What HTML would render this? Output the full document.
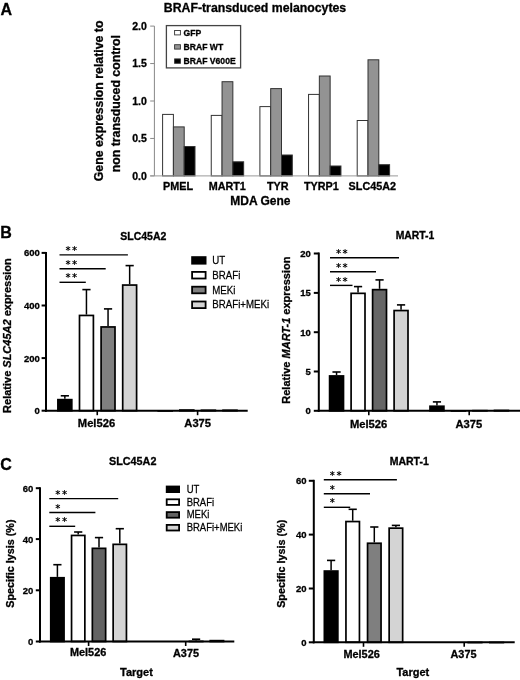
<!DOCTYPE html>
<html><head><meta charset="utf-8"><title>Figure</title>
<style>
html,body{margin:0;padding:0;background:#fff;}
body{width:520px;height:680px;overflow:hidden;}
svg{display:block;font-family:"Liberation Sans", Arial, Helvetica, sans-serif;}
</style></head><body>
<svg width="520" height="680" viewBox="0 0 520 680">
<rect width="520" height="680" fill="#fff"/>
<text x="0.40" y="15.40" font-size="16" font-weight="bold" stroke="#000" stroke-width="0.3" text-anchor="start" fill="#000">A</text>
<text x="255.00" y="12.20" font-size="12.3" font-weight="bold" stroke="#000" stroke-width="0.3" text-anchor="middle" fill="#000">BRAF-transduced melanocytes</text>
<text x="102.90" y="100.90" font-size="12.3" font-weight="bold" stroke="#000" stroke-width="0.3" text-anchor="middle" fill="#000" transform="rotate(-90 102.9 100.9)">Gene expression relative to</text>
<text x="120.10" y="103.60" font-size="12.3" font-weight="bold" stroke="#000" stroke-width="0.3" text-anchor="middle" fill="#000" transform="rotate(-90 120.1 103.6)">non transduced control</text>
<line x1="154.40" y1="26.10" x2="154.40" y2="175.90" stroke="#888" stroke-width="1" stroke-linecap="butt"/>
<line x1="150.20" y1="175.90" x2="154.40" y2="175.90" stroke="#888" stroke-width="1" stroke-linecap="butt"/>
<text x="146.80" y="179.60" font-size="10.5" font-weight="bold" stroke="#000" stroke-width="0.3" text-anchor="end" fill="#000">0.0</text>
<line x1="150.20" y1="138.45" x2="154.40" y2="138.45" stroke="#888" stroke-width="1" stroke-linecap="butt"/>
<text x="146.80" y="142.15" font-size="10.5" font-weight="bold" stroke="#000" stroke-width="0.3" text-anchor="end" fill="#000">0.5</text>
<line x1="150.20" y1="101.00" x2="154.40" y2="101.00" stroke="#888" stroke-width="1" stroke-linecap="butt"/>
<text x="146.80" y="104.70" font-size="10.5" font-weight="bold" stroke="#000" stroke-width="0.3" text-anchor="end" fill="#000">1.0</text>
<line x1="150.20" y1="63.55" x2="154.40" y2="63.55" stroke="#888" stroke-width="1" stroke-linecap="butt"/>
<text x="146.80" y="67.25" font-size="10.5" font-weight="bold" stroke="#000" stroke-width="0.3" text-anchor="end" fill="#000">1.5</text>
<line x1="150.20" y1="26.10" x2="154.40" y2="26.10" stroke="#888" stroke-width="1" stroke-linecap="butt"/>
<text x="146.80" y="29.80" font-size="10.5" font-weight="bold" stroke="#000" stroke-width="0.3" text-anchor="end" fill="#000">2.0</text>
<rect x="162.60" y="114.40" width="10.80" height="61.50" fill="#fff" stroke="#333" stroke-width="1"/>
<rect x="173.40" y="126.90" width="10.80" height="49.00" fill="#939393" stroke="#333" stroke-width="1"/>
<rect x="184.20" y="146.50" width="10.80" height="29.40" fill="#000" stroke="#333" stroke-width="1"/>
<text x="178.00" y="189.80" font-size="10.8" font-weight="bold" stroke="#000" stroke-width="0.3" text-anchor="middle" fill="#000">PMEL</text>
<rect x="211.25" y="115.40" width="10.80" height="60.50" fill="#fff" stroke="#333" stroke-width="1"/>
<rect x="222.05" y="81.70" width="10.80" height="94.20" fill="#939393" stroke="#333" stroke-width="1"/>
<rect x="232.85" y="161.80" width="10.80" height="14.10" fill="#000" stroke="#333" stroke-width="1"/>
<text x="227.25" y="189.80" font-size="10.8" font-weight="bold" stroke="#000" stroke-width="0.3" text-anchor="middle" fill="#000">MART1</text>
<rect x="259.90" y="106.60" width="10.80" height="69.30" fill="#fff" stroke="#333" stroke-width="1"/>
<rect x="270.70" y="88.60" width="10.80" height="87.30" fill="#939393" stroke="#333" stroke-width="1"/>
<rect x="281.50" y="155.00" width="10.80" height="20.90" fill="#000" stroke="#333" stroke-width="1"/>
<text x="277.70" y="189.80" font-size="10.8" font-weight="bold" stroke="#000" stroke-width="0.3" text-anchor="middle" fill="#000">TYR</text>
<rect x="308.55" y="94.40" width="10.80" height="81.50" fill="#fff" stroke="#333" stroke-width="1"/>
<rect x="319.35" y="76.00" width="10.80" height="99.90" fill="#939393" stroke="#333" stroke-width="1"/>
<rect x="330.15" y="166.00" width="10.80" height="9.90" fill="#000" stroke="#333" stroke-width="1"/>
<text x="321.40" y="189.80" font-size="10.8" font-weight="bold" stroke="#000" stroke-width="0.3" text-anchor="middle" fill="#000">TYRP1</text>
<rect x="357.20" y="120.50" width="10.80" height="55.40" fill="#fff" stroke="#333" stroke-width="1"/>
<rect x="368.00" y="59.80" width="10.80" height="116.10" fill="#939393" stroke="#333" stroke-width="1"/>
<rect x="378.80" y="164.70" width="10.80" height="11.20" fill="#000" stroke="#333" stroke-width="1"/>
<text x="372.30" y="189.80" font-size="10.8" font-weight="bold" stroke="#000" stroke-width="0.3" text-anchor="middle" fill="#000">SLC45A2</text>
<line x1="150.20" y1="175.90" x2="398.00" y2="175.90" stroke="#999" stroke-width="1" stroke-linecap="butt"/>
<text x="260.40" y="205.40" font-size="12" font-weight="bold" stroke="#000" stroke-width="0.3" text-anchor="middle" fill="#000">MDA Gene</text>
<rect x="166.40" y="25.60" width="74.20" height="42.30" fill="none" stroke="#444" stroke-width="1.3"/>
<rect x="174.60" y="30.50" width="5.80" height="4.40" fill="#fff" stroke="#333" stroke-width="0.9"/>
<text x="183.60" y="35.70" font-size="8.6" font-weight="bold" stroke="#000" stroke-width="0.3" text-anchor="start" fill="#000">GFP</text>
<rect x="174.60" y="44.70" width="5.80" height="4.40" fill="#939393" stroke="#333" stroke-width="0.9"/>
<text x="183.60" y="49.90" font-size="8.6" font-weight="bold" stroke="#000" stroke-width="0.3" text-anchor="start" fill="#000">BRAF WT</text>
<rect x="174.60" y="58.90" width="5.80" height="4.40" fill="#000" stroke="#333" stroke-width="0.9"/>
<text x="183.60" y="64.10" font-size="8.6" font-weight="bold" stroke="#000" stroke-width="0.3" text-anchor="start" fill="#000">BRAF V600E</text>
<text x="0.30" y="238.00" font-size="16" font-weight="bold" stroke="#000" stroke-width="0.3" text-anchor="start" fill="#000">B</text>
<line x1="64.85" y1="398.80" x2="64.85" y2="395.80" stroke="#000" stroke-width="1.5" stroke-linecap="butt"/>
<line x1="60.75" y1="395.80" x2="68.95" y2="395.80" stroke="#000" stroke-width="1.6" stroke-linecap="butt"/>
<rect x="57.90" y="399.65" width="13.90" height="11.05" fill="#000" stroke="#000" stroke-width="1.7"/>
<line x1="86.45" y1="314.60" x2="86.45" y2="289.60" stroke="#000" stroke-width="1.5" stroke-linecap="butt"/>
<line x1="82.35" y1="289.60" x2="90.55" y2="289.60" stroke="#000" stroke-width="1.6" stroke-linecap="butt"/>
<rect x="79.50" y="315.45" width="13.90" height="95.25" fill="#fff" stroke="#000" stroke-width="1.7"/>
<line x1="108.05" y1="326.10" x2="108.05" y2="308.90" stroke="#000" stroke-width="1.5" stroke-linecap="butt"/>
<line x1="103.95" y1="308.90" x2="112.15" y2="308.90" stroke="#000" stroke-width="1.6" stroke-linecap="butt"/>
<rect x="101.10" y="326.95" width="13.90" height="83.75" fill="#808080" stroke="#000" stroke-width="1.7"/>
<line x1="129.65" y1="284.20" x2="129.65" y2="265.60" stroke="#000" stroke-width="1.5" stroke-linecap="butt"/>
<line x1="125.55" y1="265.60" x2="133.75" y2="265.60" stroke="#000" stroke-width="1.6" stroke-linecap="butt"/>
<rect x="122.70" y="285.05" width="13.90" height="125.65" fill="#d4d4d4" stroke="#000" stroke-width="1.7"/>
<rect x="158.25" y="410.85" width="13.90" height="0.10" fill="#000" stroke="#000" stroke-width="1.7"/>
<rect x="179.85" y="410.05" width="13.90" height="0.65" fill="#fff" stroke="#000" stroke-width="1.7"/>
<rect x="201.45" y="410.25" width="13.90" height="0.45" fill="#808080" stroke="#000" stroke-width="1.7"/>
<rect x="223.05" y="410.25" width="13.90" height="0.45" fill="#d4d4d4" stroke="#000" stroke-width="1.7"/>
<line x1="46.00" y1="251.90" x2="46.00" y2="411.70" stroke="#000" stroke-width="2" stroke-linecap="butt"/>
<line x1="45.00" y1="410.70" x2="247.70" y2="410.70" stroke="#000" stroke-width="2" stroke-linecap="butt"/>
<line x1="41.60" y1="410.70" x2="46.00" y2="410.70" stroke="#000" stroke-width="2" stroke-linecap="butt"/>
<text x="39.80" y="414.10" font-size="9.5" font-weight="bold" stroke="#000" stroke-width="0.3" text-anchor="end" fill="#000">0</text>
<line x1="41.60" y1="358.10" x2="46.00" y2="358.10" stroke="#000" stroke-width="2" stroke-linecap="butt"/>
<text x="39.80" y="361.50" font-size="9.5" font-weight="bold" stroke="#000" stroke-width="0.3" text-anchor="end" fill="#000">200</text>
<line x1="41.60" y1="305.50" x2="46.00" y2="305.50" stroke="#000" stroke-width="2" stroke-linecap="butt"/>
<text x="39.80" y="308.90" font-size="9.5" font-weight="bold" stroke="#000" stroke-width="0.3" text-anchor="end" fill="#000">400</text>
<line x1="41.60" y1="252.90" x2="46.00" y2="252.90" stroke="#000" stroke-width="2" stroke-linecap="butt"/>
<text x="39.80" y="256.30" font-size="9.5" font-weight="bold" stroke="#000" stroke-width="0.3" text-anchor="end" fill="#000">600</text>
<line x1="97.25" y1="410.70" x2="97.25" y2="415.20" stroke="#000" stroke-width="1.6" stroke-linecap="butt"/>
<line x1="197.60" y1="410.70" x2="197.60" y2="415.20" stroke="#000" stroke-width="1.6" stroke-linecap="butt"/>
<line x1="59.50" y1="254.90" x2="127.90" y2="254.90" stroke="#000" stroke-width="1.4" stroke-linecap="butt"/>
<text x="65.40" y="254.05" font-size="9.8" font-weight="bold" font-family="DejaVu Sans, sans-serif" letter-spacing="1.6">**</text>
<line x1="59.50" y1="268.70" x2="105.70" y2="268.70" stroke="#000" stroke-width="1.4" stroke-linecap="butt"/>
<text x="65.40" y="267.85" font-size="9.8" font-weight="bold" font-family="DejaVu Sans, sans-serif" letter-spacing="1.6">**</text>
<line x1="59.50" y1="282.30" x2="85.80" y2="282.30" stroke="#000" stroke-width="1.4" stroke-linecap="butt"/>
<text x="65.40" y="281.45" font-size="9.8" font-weight="bold" font-family="DejaVu Sans, sans-serif" letter-spacing="1.6">**</text>
<rect x="192.10" y="257.10" width="13.50" height="6.60" fill="#000" stroke="#000" stroke-width="1.8"/>
<text x="0.00" y="0.00" font-size="9.7" stroke="#000" stroke-width="0.22" text-anchor="start" fill="#000" transform="translate(212.30 264.00) scale(1 1.15)">UT</text>
<rect x="192.10" y="271.90" width="13.50" height="6.60" fill="#fff" stroke="#000" stroke-width="1.8"/>
<text x="0.00" y="0.00" font-size="9.7" stroke="#000" stroke-width="0.22" text-anchor="start" fill="#000" transform="translate(212.30 278.80) scale(1 1.15)">BRAFi</text>
<rect x="192.10" y="286.70" width="13.50" height="6.60" fill="#808080" stroke="#000" stroke-width="1.8"/>
<text x="0.00" y="0.00" font-size="9.7" stroke="#000" stroke-width="0.22" text-anchor="start" fill="#000" transform="translate(212.30 293.60) scale(1 1.15)">MEKi</text>
<rect x="192.10" y="301.50" width="13.50" height="6.60" fill="#d4d4d4" stroke="#000" stroke-width="1.8"/>
<text x="0.00" y="0.00" font-size="9.7" stroke="#000" stroke-width="0.22" text-anchor="start" fill="#000" transform="translate(212.30 308.40) scale(1 1.15)">BRAFi+MEKi</text>
<text x="143.35" y="239.80" font-size="10.5" font-weight="bold" stroke="#000" stroke-width="0.3" text-anchor="middle" fill="#000">SLC45A2</text>
<text x="10.80" y="335.60" font-size="11" font-weight="bold" stroke="#000" stroke-width="0.3" text-anchor="middle" fill="#000" transform="rotate(-90 10.8 335.6)">Relative <tspan font-style="italic">SLC45A2</tspan> expression</text>
<text x="96.50" y="427.30" font-size="11.2" font-weight="bold" stroke="#000" stroke-width="0.3" text-anchor="middle" fill="#000">Mel526</text>
<text x="197.70" y="427.30" font-size="11.2" font-weight="bold" stroke="#000" stroke-width="0.3" text-anchor="middle" fill="#000">A375</text>
<line x1="336.55" y1="375.10" x2="336.55" y2="372.00" stroke="#000" stroke-width="1.5" stroke-linecap="butt"/>
<line x1="332.45" y1="372.00" x2="340.65" y2="372.00" stroke="#000" stroke-width="1.6" stroke-linecap="butt"/>
<rect x="329.60" y="375.95" width="13.90" height="34.85" fill="#000" stroke="#000" stroke-width="1.7"/>
<line x1="358.05" y1="292.50" x2="358.05" y2="286.60" stroke="#000" stroke-width="1.5" stroke-linecap="butt"/>
<line x1="353.95" y1="286.60" x2="362.15" y2="286.60" stroke="#000" stroke-width="1.6" stroke-linecap="butt"/>
<rect x="351.10" y="293.35" width="13.90" height="117.45" fill="#fff" stroke="#000" stroke-width="1.7"/>
<line x1="379.55" y1="288.80" x2="379.55" y2="279.90" stroke="#000" stroke-width="1.5" stroke-linecap="butt"/>
<line x1="375.45" y1="279.90" x2="383.65" y2="279.90" stroke="#000" stroke-width="1.6" stroke-linecap="butt"/>
<rect x="372.60" y="289.65" width="13.90" height="121.15" fill="#666666" stroke="#000" stroke-width="1.7"/>
<line x1="401.05" y1="309.70" x2="401.05" y2="304.90" stroke="#000" stroke-width="1.5" stroke-linecap="butt"/>
<line x1="396.95" y1="304.90" x2="405.15" y2="304.90" stroke="#000" stroke-width="1.6" stroke-linecap="butt"/>
<rect x="394.10" y="310.55" width="13.90" height="100.25" fill="#d4d4d4" stroke="#000" stroke-width="1.7"/>
<line x1="436.95" y1="405.40" x2="436.95" y2="401.90" stroke="#000" stroke-width="1.5" stroke-linecap="butt"/>
<line x1="432.85" y1="401.90" x2="441.05" y2="401.90" stroke="#000" stroke-width="1.6" stroke-linecap="butt"/>
<rect x="430.00" y="406.25" width="13.90" height="4.55" fill="#000" stroke="#000" stroke-width="1.7"/>
<rect x="451.50" y="410.85" width="13.90" height="0.10" fill="#fff" stroke="#000" stroke-width="1.7"/>
<rect x="473.00" y="410.65" width="13.90" height="0.15" fill="#666666" stroke="#000" stroke-width="1.7"/>
<rect x="494.50" y="410.45" width="13.90" height="0.35" fill="#d4d4d4" stroke="#000" stroke-width="1.7"/>
<line x1="318.80" y1="252.50" x2="318.80" y2="411.80" stroke="#000" stroke-width="2" stroke-linecap="butt"/>
<line x1="317.80" y1="410.80" x2="520.00" y2="410.80" stroke="#000" stroke-width="2" stroke-linecap="butt"/>
<line x1="313.80" y1="410.80" x2="318.80" y2="410.80" stroke="#000" stroke-width="2" stroke-linecap="butt"/>
<text x="310.90" y="414.20" font-size="9.5" font-weight="bold" stroke="#000" stroke-width="0.3" text-anchor="end" fill="#000">0</text>
<line x1="313.80" y1="371.50" x2="318.80" y2="371.50" stroke="#000" stroke-width="2" stroke-linecap="butt"/>
<text x="310.90" y="374.90" font-size="9.5" font-weight="bold" stroke="#000" stroke-width="0.3" text-anchor="end" fill="#000">5</text>
<line x1="313.80" y1="332.20" x2="318.80" y2="332.20" stroke="#000" stroke-width="2" stroke-linecap="butt"/>
<text x="310.90" y="335.60" font-size="9.5" font-weight="bold" stroke="#000" stroke-width="0.3" text-anchor="end" fill="#000">10</text>
<line x1="313.80" y1="292.90" x2="318.80" y2="292.90" stroke="#000" stroke-width="2" stroke-linecap="butt"/>
<text x="310.90" y="296.30" font-size="9.5" font-weight="bold" stroke="#000" stroke-width="0.3" text-anchor="end" fill="#000">15</text>
<line x1="313.80" y1="253.50" x2="318.80" y2="253.50" stroke="#000" stroke-width="2" stroke-linecap="butt"/>
<text x="310.90" y="256.90" font-size="9.5" font-weight="bold" stroke="#000" stroke-width="0.3" text-anchor="end" fill="#000">20</text>
<line x1="368.80" y1="410.80" x2="368.80" y2="415.30" stroke="#000" stroke-width="1.6" stroke-linecap="butt"/>
<line x1="469.20" y1="410.80" x2="469.20" y2="415.30" stroke="#000" stroke-width="1.6" stroke-linecap="butt"/>
<line x1="330.00" y1="257.70" x2="399.00" y2="257.70" stroke="#000" stroke-width="1.4" stroke-linecap="butt"/>
<text x="335.90" y="256.85" font-size="9.8" font-weight="bold" font-family="DejaVu Sans, sans-serif" letter-spacing="1.6">**</text>
<line x1="330.00" y1="271.80" x2="376.00" y2="271.80" stroke="#000" stroke-width="1.4" stroke-linecap="butt"/>
<text x="335.90" y="270.95" font-size="9.8" font-weight="bold" font-family="DejaVu Sans, sans-serif" letter-spacing="1.6">**</text>
<line x1="330.00" y1="285.40" x2="352.50" y2="285.40" stroke="#000" stroke-width="1.4" stroke-linecap="butt"/>
<text x="335.90" y="284.55" font-size="9.8" font-weight="bold" font-family="DejaVu Sans, sans-serif" letter-spacing="1.6">**</text>
<text x="415.00" y="239.40" font-size="10.4" font-weight="bold" stroke="#000" stroke-width="0.3" text-anchor="middle" fill="#000">MART-1</text>
<text x="290.20" y="330.15" font-size="11" font-weight="bold" stroke="#000" stroke-width="0.3" text-anchor="middle" fill="#000" transform="rotate(-90 290.2 330.15)">Relative <tspan font-style="italic">MART-1</tspan> expression</text>
<text x="368.60" y="427.60" font-size="11.2" font-weight="bold" stroke="#000" stroke-width="0.3" text-anchor="middle" fill="#000">Mel526</text>
<text x="468.90" y="427.60" font-size="11.2" font-weight="bold" stroke="#000" stroke-width="0.3" text-anchor="middle" fill="#000">A375</text>
<text x="0.30" y="469.50" font-size="16" font-weight="bold" stroke="#000" stroke-width="0.3" text-anchor="start" fill="#000">C</text>
<line x1="57.40" y1="576.90" x2="57.40" y2="564.70" stroke="#000" stroke-width="1.5" stroke-linecap="butt"/>
<line x1="53.30" y1="564.70" x2="61.50" y2="564.70" stroke="#000" stroke-width="1.6" stroke-linecap="butt"/>
<rect x="50.75" y="577.75" width="13.30" height="63.75" fill="#000" stroke="#000" stroke-width="1.7"/>
<line x1="78.20" y1="534.60" x2="78.20" y2="532.00" stroke="#000" stroke-width="1.5" stroke-linecap="butt"/>
<line x1="74.10" y1="532.00" x2="82.30" y2="532.00" stroke="#000" stroke-width="1.6" stroke-linecap="butt"/>
<rect x="71.55" y="535.45" width="13.30" height="106.05" fill="#fff" stroke="#000" stroke-width="1.7"/>
<line x1="99.00" y1="547.50" x2="99.00" y2="537.60" stroke="#000" stroke-width="1.5" stroke-linecap="butt"/>
<line x1="94.90" y1="537.60" x2="103.10" y2="537.60" stroke="#000" stroke-width="1.6" stroke-linecap="butt"/>
<rect x="92.35" y="548.35" width="13.30" height="93.15" fill="#636363" stroke="#000" stroke-width="1.7"/>
<line x1="119.80" y1="543.50" x2="119.80" y2="528.70" stroke="#000" stroke-width="1.5" stroke-linecap="butt"/>
<line x1="115.70" y1="528.70" x2="123.90" y2="528.70" stroke="#000" stroke-width="1.6" stroke-linecap="butt"/>
<rect x="113.15" y="544.35" width="13.30" height="97.15" fill="#d4d4d4" stroke="#000" stroke-width="1.7"/>
<line x1="196.10" y1="640.50" x2="196.10" y2="639.20" stroke="#000" stroke-width="1.5" stroke-linecap="butt"/>
<line x1="192.00" y1="639.20" x2="200.20" y2="639.20" stroke="#000" stroke-width="1.6" stroke-linecap="butt"/>
<rect x="189.45" y="641.35" width="13.30" height="0.15" fill="#636363" stroke="#000" stroke-width="1.7"/>
<rect x="210.25" y="640.65" width="13.30" height="0.85" fill="#d4d4d4" stroke="#000" stroke-width="1.7"/>
<line x1="40.00" y1="487.20" x2="40.00" y2="642.50" stroke="#000" stroke-width="2" stroke-linecap="butt"/>
<line x1="39.00" y1="641.50" x2="234.30" y2="641.50" stroke="#000" stroke-width="2" stroke-linecap="butt"/>
<line x1="35.80" y1="641.50" x2="40.00" y2="641.50" stroke="#000" stroke-width="2" stroke-linecap="butt"/>
<text x="33.30" y="644.90" font-size="9.5" font-weight="bold" stroke="#000" stroke-width="0.3" text-anchor="end" fill="#000">0</text>
<line x1="35.80" y1="590.30" x2="40.00" y2="590.30" stroke="#000" stroke-width="2" stroke-linecap="butt"/>
<text x="33.30" y="593.70" font-size="9.5" font-weight="bold" stroke="#000" stroke-width="0.3" text-anchor="end" fill="#000">20</text>
<line x1="35.80" y1="539.10" x2="40.00" y2="539.10" stroke="#000" stroke-width="2" stroke-linecap="butt"/>
<text x="33.30" y="542.50" font-size="9.5" font-weight="bold" stroke="#000" stroke-width="0.3" text-anchor="end" fill="#000">40</text>
<line x1="35.80" y1="488.20" x2="40.00" y2="488.20" stroke="#000" stroke-width="2" stroke-linecap="butt"/>
<text x="33.30" y="491.60" font-size="9.5" font-weight="bold" stroke="#000" stroke-width="0.3" text-anchor="end" fill="#000">60</text>
<line x1="88.60" y1="641.50" x2="88.60" y2="646.00" stroke="#000" stroke-width="1.6" stroke-linecap="butt"/>
<line x1="185.70" y1="641.50" x2="185.70" y2="646.00" stroke="#000" stroke-width="1.6" stroke-linecap="butt"/>
<line x1="49.30" y1="498.60" x2="118.20" y2="498.60" stroke="#000" stroke-width="1.4" stroke-linecap="butt"/>
<text x="55.20" y="497.75" font-size="9.8" font-weight="bold" font-family="DejaVu Sans, sans-serif" letter-spacing="1.6">**</text>
<line x1="49.30" y1="512.50" x2="95.40" y2="512.50" stroke="#000" stroke-width="1.4" stroke-linecap="butt"/>
<text x="55.20" y="511.65" font-size="9.8" font-weight="bold" font-family="DejaVu Sans, sans-serif" letter-spacing="1.6">*</text>
<line x1="49.30" y1="526.30" x2="75.20" y2="526.30" stroke="#000" stroke-width="1.4" stroke-linecap="butt"/>
<text x="55.20" y="525.45" font-size="9.8" font-weight="bold" font-family="DejaVu Sans, sans-serif" letter-spacing="1.6">**</text>
<rect x="166.70" y="486.50" width="12.40" height="5.60" fill="#000" stroke="#000" stroke-width="1.8"/>
<text x="0.00" y="0.00" font-size="9.5" stroke="#000" stroke-width="0.22" text-anchor="start" fill="#000" transform="translate(186.70 492.70) scale(1 1.15)">UT</text>
<rect x="166.70" y="499.30" width="12.40" height="5.60" fill="#fff" stroke="#000" stroke-width="1.8"/>
<text x="0.00" y="0.00" font-size="9.5" stroke="#000" stroke-width="0.22" text-anchor="start" fill="#000" transform="translate(186.70 505.50) scale(1 1.15)">BRAFi</text>
<rect x="166.70" y="512.10" width="12.40" height="5.60" fill="#636363" stroke="#000" stroke-width="1.8"/>
<text x="0.00" y="0.00" font-size="9.5" stroke="#000" stroke-width="0.22" text-anchor="start" fill="#000" transform="translate(186.70 518.30) scale(1 1.15)">MEKi</text>
<rect x="166.70" y="524.90" width="12.40" height="5.60" fill="#d4d4d4" stroke="#000" stroke-width="1.8"/>
<text x="0.00" y="0.00" font-size="9.5" stroke="#000" stroke-width="0.22" text-anchor="start" fill="#000" transform="translate(186.70 531.10) scale(1 1.15)">BRAFi+MEKi</text>
<text x="132.70" y="465.40" font-size="10.8" font-weight="bold" stroke="#000" stroke-width="0.3" text-anchor="middle" fill="#000">SLC45A2</text>
<text x="14.30" y="563.60" font-size="10.8" font-weight="bold" stroke="#000" stroke-width="0.3" text-anchor="middle" fill="#000" transform="rotate(-90 14.3 563.6)">Specific lysis (%)</text>
<text x="88.10" y="656.30" font-size="10.9" font-weight="bold" stroke="#000" stroke-width="0.3" text-anchor="middle" fill="#000">Mel526</text>
<text x="186.00" y="656.50" font-size="10.9" font-weight="bold" stroke="#000" stroke-width="0.3" text-anchor="middle" fill="#000">A375</text>
<text x="136.45" y="675.60" font-size="11" font-weight="bold" stroke="#000" stroke-width="0.3" text-anchor="middle" fill="#000">Target</text>
<line x1="331.10" y1="570.20" x2="331.10" y2="560.40" stroke="#000" stroke-width="1.5" stroke-linecap="butt"/>
<line x1="327.00" y1="560.40" x2="335.20" y2="560.40" stroke="#000" stroke-width="1.6" stroke-linecap="butt"/>
<rect x="324.35" y="571.05" width="13.50" height="71.25" fill="#000" stroke="#000" stroke-width="1.7"/>
<line x1="352.70" y1="520.70" x2="352.70" y2="509.30" stroke="#000" stroke-width="1.5" stroke-linecap="butt"/>
<line x1="348.60" y1="509.30" x2="356.80" y2="509.30" stroke="#000" stroke-width="1.6" stroke-linecap="butt"/>
<rect x="345.95" y="521.55" width="13.50" height="120.75" fill="#fff" stroke="#000" stroke-width="1.7"/>
<line x1="374.30" y1="542.40" x2="374.30" y2="527.00" stroke="#000" stroke-width="1.5" stroke-linecap="butt"/>
<line x1="370.20" y1="527.00" x2="378.40" y2="527.00" stroke="#000" stroke-width="1.6" stroke-linecap="butt"/>
<rect x="367.55" y="543.25" width="13.50" height="99.05" fill="#7f7f7f" stroke="#000" stroke-width="1.7"/>
<line x1="395.90" y1="527.30" x2="395.90" y2="525.40" stroke="#000" stroke-width="1.5" stroke-linecap="butt"/>
<line x1="391.80" y1="525.40" x2="400.00" y2="525.40" stroke="#000" stroke-width="1.6" stroke-linecap="butt"/>
<rect x="389.15" y="528.15" width="13.50" height="114.15" fill="#d4d4d4" stroke="#000" stroke-width="1.7"/>
<rect x="468.25" y="642.45" width="13.50" height="0.10" fill="#7f7f7f" stroke="#000" stroke-width="1.7"/>
<rect x="489.85" y="642.45" width="13.50" height="0.10" fill="#d4d4d4" stroke="#000" stroke-width="1.7"/>
<line x1="313.80" y1="479.80" x2="313.80" y2="643.30" stroke="#000" stroke-width="2" stroke-linecap="butt"/>
<line x1="312.80" y1="642.30" x2="514.70" y2="642.30" stroke="#000" stroke-width="2" stroke-linecap="butt"/>
<line x1="308.80" y1="642.30" x2="313.80" y2="642.30" stroke="#000" stroke-width="2" stroke-linecap="butt"/>
<text x="306.60" y="645.70" font-size="9.5" font-weight="bold" stroke="#000" stroke-width="0.3" text-anchor="end" fill="#000">0</text>
<line x1="308.80" y1="588.50" x2="313.80" y2="588.50" stroke="#000" stroke-width="2" stroke-linecap="butt"/>
<text x="306.60" y="591.90" font-size="9.5" font-weight="bold" stroke="#000" stroke-width="0.3" text-anchor="end" fill="#000">20</text>
<line x1="308.80" y1="534.60" x2="313.80" y2="534.60" stroke="#000" stroke-width="2" stroke-linecap="butt"/>
<text x="306.60" y="538.00" font-size="9.5" font-weight="bold" stroke="#000" stroke-width="0.3" text-anchor="end" fill="#000">40</text>
<line x1="308.80" y1="480.80" x2="313.80" y2="480.80" stroke="#000" stroke-width="2" stroke-linecap="butt"/>
<text x="306.60" y="484.20" font-size="9.5" font-weight="bold" stroke="#000" stroke-width="0.3" text-anchor="end" fill="#000">60</text>
<line x1="363.50" y1="642.30" x2="363.50" y2="646.80" stroke="#000" stroke-width="1.6" stroke-linecap="butt"/>
<line x1="464.20" y1="642.30" x2="464.20" y2="646.80" stroke="#000" stroke-width="1.6" stroke-linecap="butt"/>
<line x1="323.80" y1="479.80" x2="396.90" y2="479.80" stroke="#000" stroke-width="1.4" stroke-linecap="butt"/>
<text x="329.70" y="478.95" font-size="9.8" font-weight="bold" font-family="DejaVu Sans, sans-serif" letter-spacing="1.6">**</text>
<line x1="323.80" y1="493.70" x2="370.00" y2="493.70" stroke="#000" stroke-width="1.4" stroke-linecap="butt"/>
<text x="329.70" y="492.85" font-size="9.8" font-weight="bold" font-family="DejaVu Sans, sans-serif" letter-spacing="1.6">*</text>
<line x1="323.80" y1="507.30" x2="350.20" y2="507.30" stroke="#000" stroke-width="1.4" stroke-linecap="butt"/>
<text x="329.70" y="506.45" font-size="9.8" font-weight="bold" font-family="DejaVu Sans, sans-serif" letter-spacing="1.6">*</text>
<text x="409.25" y="465.00" font-size="10.5" font-weight="bold" stroke="#000" stroke-width="0.3" text-anchor="middle" fill="#000">MART-1</text>
<text x="285.00" y="563.75" font-size="10.8" font-weight="bold" stroke="#000" stroke-width="0.3" text-anchor="middle" fill="#000" transform="rotate(-90 285.0 563.75)">Specific lysis (%)</text>
<text x="361.60" y="658.40" font-size="10.9" font-weight="bold" stroke="#000" stroke-width="0.3" text-anchor="middle" fill="#000">Mel526</text>
<text x="463.50" y="658.20" font-size="10.9" font-weight="bold" stroke="#000" stroke-width="0.3" text-anchor="middle" fill="#000">A375</text>
<text x="412.80" y="675.60" font-size="11" font-weight="bold" stroke="#000" stroke-width="0.3" text-anchor="middle" fill="#000">Target</text>
</svg>
</body></html>
